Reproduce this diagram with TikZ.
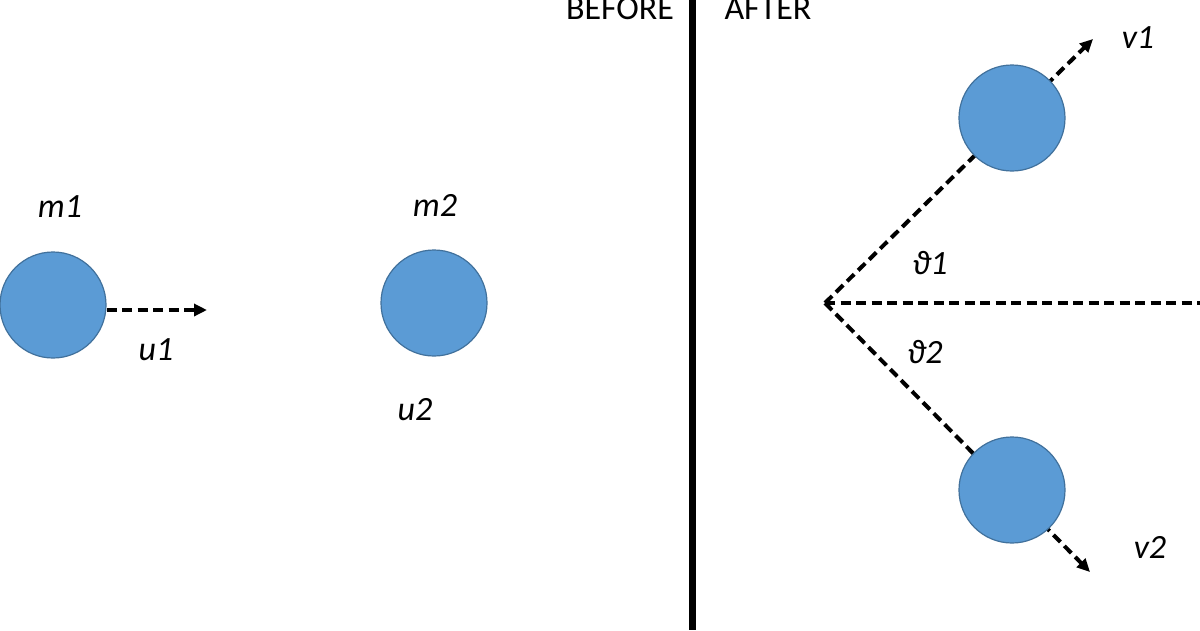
\documentclass[tikz,border=0pt]{standalone}
\usepackage{fontspec}
\setmainfont{Carlito}
\usetikzlibrary{arrows.meta}
\definecolor{ballfill}{HTML}{5B9BD5}
\definecolor{ballline}{HTML}{41719C}
\begin{document}
\begin{tikzpicture}[x=1pt,y=-1pt,
 ball/.style={circle, fill=ballfill, draw=ballline, line width=1.2pt, minimum size=106pt, inner sep=0pt},
 lbl/.style={font=\fontsize{34}{36}\selectfont\itshape, inner sep=0pt},
 head/.style={font=\fontsize{34}{36}\selectfont, inner sep=0pt, anchor=base},
 dline/.style={line width=4pt, dash pattern=on 10pt off 5.5pt},
 darrow/.style={dline, -{Triangle[length=13pt,width=12pt]}}]
\useasboundingbox (0,0) rectangle (1200,630);
\fill[white] (0,0) rectangle (1200,630);
% divider
\coordinate (divtop) at (692,0);
\coordinate (divbot) at (692,630);
\draw[line width=7pt] (divtop) -- (divbot);
\node[head] (before) at (620,19) {BEFORE};
\node[head] (after) at (768,19) {AFTER};
% before
\node[ball] (m1) at (53,305) {};
\node[ball] (m2) at (434,303) {};
\coordinate (u1tip) at (207,310);
\draw[darrow] (m1.east |- u1tip) -- (u1tip);
\node[lbl] (m1l) at (60,207) {m1};
\node[lbl] (m2l) at (435,205) {m2};
\node[lbl] (u1l) at (156,350) {u1};
\node[lbl] (u2l) at (415,410) {u2};
% after
\coordinate (o) at (825,303);
\coordinate (hend) at (1210,303);
\coordinate (v1tip) at (1093,39);
\coordinate (v2tip) at (1090,572);
\draw[dline] (o) -- (hend);
\draw[darrow] (o) -- (v1tip);
\draw[darrow] (o) -- (v2tip);
\node[ball] (b1) at (1012,118) {};
\node[ball] (b2) at (1012,490) {};
\node[lbl] (v1l) at (1138,38) {v1};
\node[lbl] (v2l) at (1150,547) {v2};
\node[lbl] (t1l) at (930,263) {ϑ1};
\node[lbl] (t2l) at (925,352) {ϑ2};
\end{tikzpicture}
\end{document}
